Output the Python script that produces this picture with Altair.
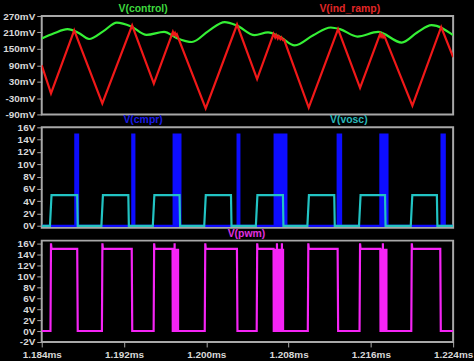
import altair as alt
import pandas as pd

# ---------------- data (time in microseconds) ----------------
T_DOMAIN = [1184, 1224]
x_tick_values = [1184, 1192, 1200, 1208, 1216, 1224]

# Panel 1: V(control) (green, smooth) and V(ind_ramp) (red, triangular), mV
control_t = [1184.0, 1185.2, 1186.5, 1187.6, 1188.6, 1190.0, 1191.3, 1192.7, 1194.2, 1195.9,
             1197.1, 1198.6, 1200.2, 1201.8, 1203.0, 1204.7, 1206.0, 1207.2, 1208.6, 1210.4,
             1212.1, 1213.0, 1214.7, 1216.7, 1219.0, 1220.5, 1221.9, 1224.0]
control_v = [188, 207, 222, 208, 186, 215, 246, 232, 201, 212,
             190, 175, 215, 248, 235, 200, 210, 193, 163, 200,
             228, 222, 195, 212, 173, 210, 237, 200]

ramp_t = [1184.0, 1184.9, 1187.16, 1189.89, 1192.79, 1194.9,
          1196.75, 1196.85, 1196.95, 1197.05, 1197.14,
          1199.94, 1202.99, 1204.94,
          1206.54, 1206.7, 1206.8, 1206.95, 1207.05, 1207.2, 1207.3, 1207.45, 1207.57,
          1209.96, 1212.81, 1214.95,
          1216.9, 1217.0, 1217.1, 1217.2, 1217.3, 1217.38,
          1220.04, 1222.84, 1224.0]
ramp_v = [90, -13, 218, -50, 236, 23,
          212, 202, 208, 198, 203,
          -68, 239, 39,
          205, 192, 200, 188, 196, 186, 192, 182, 183,
          -65, 222, 7,
          205, 195, 202, 192, 197, 191,
          -58, 230, 120]

# Panel 2: V(cmpr) bursts (blue, 0..15 V) and V(vosc) (teal square wave), V
cmpr_start = [1187.16, 1192.70, 1196.72, 1202.94, 1206.54, 1212.67, 1216.82, 1222.77]
cmpr_end = [1187.64, 1193.11, 1197.59, 1203.32, 1207.89, 1213.21, 1217.72, 1223.29]
cmpr_high = 15

vosc_t = [1184.0, 1184.8, 1184.95, 1187.45, 1187.5,
          1189.8, 1189.95, 1192.42, 1192.47,
          1194.8, 1194.95, 1197.4, 1197.45,
          1199.8, 1199.95, 1202.4, 1202.45,
          1204.82, 1204.97, 1207.45, 1207.5,
          1209.83, 1209.98, 1212.44, 1212.49,
          1214.85, 1215.0, 1217.38, 1217.43,
          1219.88, 1220.03, 1222.42, 1222.47, 1224.0]
vosc_v = [0, 0, 5, 5, 0,
          0, 5, 5, 0,
          0, 5, 5, 0,
          0, 5, 5, 0,
          0, 5, 5, 0,
          0, 5, 5, 0,
          0, 5, 5, 0,
          0, 5, 5, 0, 0]

# Panel 3: V(pwm) (magenta), V
pwm_t = [1184.0, 1184.85, 1184.9, 1184.95, 1187.45, 1187.5,
         1189.85, 1189.9, 1189.95, 1192.75, 1192.8,
         1194.88, 1194.93, 1194.98, 1196.72, 1196.74, 1196.9, 1196.92, 1196.94,
         1199.85, 1199.9, 1199.95, 1202.98, 1203.03,
         1204.9, 1204.95, 1205.0, 1206.54, 1206.56, 1206.85, 1206.87, 1206.89,
         1207.33, 1207.35, 1207.37,
         1209.87, 1209.92, 1209.97, 1212.77, 1212.82,
         1214.9, 1214.95, 1215.0, 1216.92, 1216.94, 1217.15, 1217.17, 1217.19,
         1219.93, 1219.98, 1220.03, 1222.75, 1222.8, 1224.0]
pwm_v = [0, 0, 16, 15, 15, 0,
         0, 16, 15, 15, 0,
         0, 16, 15, 15, 0, 0, 16, 0,
         0, 16, 15, 15, 0,
         0, 16, 15, 15, 0, 0, 16, 0,
         0, 16, 0,
         0, 16, 15, 15, 0,
         0, 16, 15, 15, 0, 0, 16, 0,
         0, 16, 15, 15, 0, 0]
pwm_burst_start = [1196.72, 1206.54, 1216.92]
pwm_burst_end = [1197.36, 1207.57, 1217.62]
pwm_high = 15

# y tick values
p1_ticks = [-90, -30, 30, 90, 150, 210, 270]
p2_ticks = [0, 2, 4, 6, 8, 10, 12, 14, 16]
p3_ticks = [-2, 0, 2, 4, 6, 8, 10, 12, 14, 16]

# titles
p1_titles = ["V(control)", "V(ind_ramp)"]
p2_titles = ["V(cmpr)", "V(vosc)"]
p3_titles = ["V(pwm)"]

# ---------------- styling ----------------
GREEN = "#35f035"
RED = "#f01818"
BLUE = "#0d0dff"
TEAL = "#22c3c3"
MAG = "#f524f5"
W = 414
FONT = "Liberation Sans"

xscale = alt.Scale(domain=T_DOMAIN, nice=False, zero=False)


def yaxis(vals, unit):
    return alt.Axis(values=vals, labelExpr="datum.value + '" + unit + "'", title=None,
                    labelOverlap=False, labelBound=False, tickCount=len(vals))


def title_text(label, color, xpos):
    return alt.Chart(pd.DataFrame({"s": [label]})).mark_text(
        font=FONT, fontSize=10.5, fontWeight="bold", color=color, baseline="middle", align="center"
    ).encode(x=alt.value(xpos), y=alt.value(-7), text="s:N")


# Panel 1
ctrl_df = pd.DataFrame({"t": control_t, "v": control_v})
ramp_df = pd.DataFrame({"t": ramp_t, "v": ramp_v})
y1s = alt.Scale(domain=[-90, 270], nice=False, zero=False)
y1 = alt.Y("v:Q", scale=y1s, axis=yaxis(p1_ticks, "mV"))
p1 = alt.layer(
    alt.Chart(ctrl_df).mark_line(color=GREEN, strokeWidth=2.2, interpolate="monotone", clip=True)
    .encode(x=alt.X("t:Q", scale=xscale, axis=None), y=y1),
    alt.Chart(ramp_df).mark_line(color=RED, strokeWidth=2.2, clip=True)
    .encode(x=alt.X("t:Q", scale=xscale, axis=None), y=y1),
    title_text(p1_titles[0], "#3ed83e", 102),
    title_text(p1_titles[1], "#e02626", 310),
).properties(width=W, height=99)

# Panel 2
cmpr_df = pd.DataFrame({"s": cmpr_start, "e": cmpr_end, "lo": [0] * len(cmpr_start),
                        "hi": [cmpr_high] * len(cmpr_start)})
base_df = pd.DataFrame({"s": [T_DOMAIN[0]], "e": [T_DOMAIN[1]], "lo": [0]})
vosc_df = pd.DataFrame({"t": vosc_t, "v": vosc_v})
y2s = alt.Scale(domain=[-0.3, 16], nice=False, zero=False)
p2 = alt.layer(
    alt.Chart(cmpr_df).mark_rect(color=BLUE, clip=True).encode(
        x=alt.X("s:Q", scale=xscale, axis=None), x2="e:Q",
        y=alt.Y("lo:Q", scale=y2s, axis=yaxis(p2_ticks, "V")),
        y2="hi:Q"),
    alt.Chart(base_df).mark_rule(color=BLUE, strokeWidth=2.2, clip=True).encode(
        x=alt.X("s:Q", scale=xscale, axis=None), x2="e:Q",
        y=alt.Y("lo:Q", scale=y2s, axis=yaxis(p2_ticks, "V"))),
    alt.Chart(vosc_df).mark_line(color=TEAL, strokeWidth=2.2, clip=True)
    .encode(x=alt.X("t:Q", scale=xscale, axis=None),
            y=alt.Y("v:Q", scale=y2s, axis=yaxis(p2_ticks, "V"))),
    title_text(p2_titles[0], "#1a1ae6", 102),
    title_text(p2_titles[1], "#2ab8b8", 309),
).properties(width=W, height=101)

# Panel 3
pwm_df = pd.DataFrame({"t": pwm_t, "v": pwm_v})
pb_df = pd.DataFrame({"s": pwm_burst_start, "e": pwm_burst_end, "lo": [0] * len(pwm_burst_start),
                      "hi": [pwm_high] * len(pwm_burst_start)})
y3s = alt.Scale(domain=[-2, 16.5], nice=False, zero=False)
xaxis3 = alt.Axis(values=x_tick_values, labelExpr="format(datum.value / 1000, '.3f') + 'ms'",
                  title=None, labelFlush=False, labelOverlap=False, tickSize=5, labelPadding=3)
p3 = alt.layer(
    alt.Chart(pb_df).mark_rect(color=MAG, clip=True).encode(
        x=alt.X("s:Q", scale=xscale, axis=xaxis3), x2="e:Q",
        y=alt.Y("lo:Q", scale=y3s, axis=yaxis(p3_ticks, "V")),
        y2="hi:Q"),
    alt.Chart(pwm_df).mark_line(color=MAG, strokeWidth=2.2, clip=True)
    .encode(x=alt.X("t:Q", scale=xscale, axis=xaxis3),
            y=alt.Y("v:Q", scale=y3s, axis=yaxis(p3_ticks, "V"))),
    title_text(p3_titles[0], "#e030e0", 206),
).properties(width=W, height=102)

chart = alt.vconcat(p1, p2, p3, spacing=13, bounds="flush").properties(
    padding={"left": 1, "top": 2, "right": 0, "bottom": 0},
    background="#000000",
).configure_view(
    stroke="#a8a8a8", strokeWidth=2, fill="#000000"
).configure_axis(
    domain=False, grid=False, labelColor="#d8d8d8", labelFont=FONT, labelFontSize=10,
    labelFontWeight="bold", tickColor="#a8a8a8", tickSize=5, labelPadding=2,
    labelOverlap=False, labelFlush=False
)

chart.save("out.html", embed_options={"renderer": "svg", "actions": False})
